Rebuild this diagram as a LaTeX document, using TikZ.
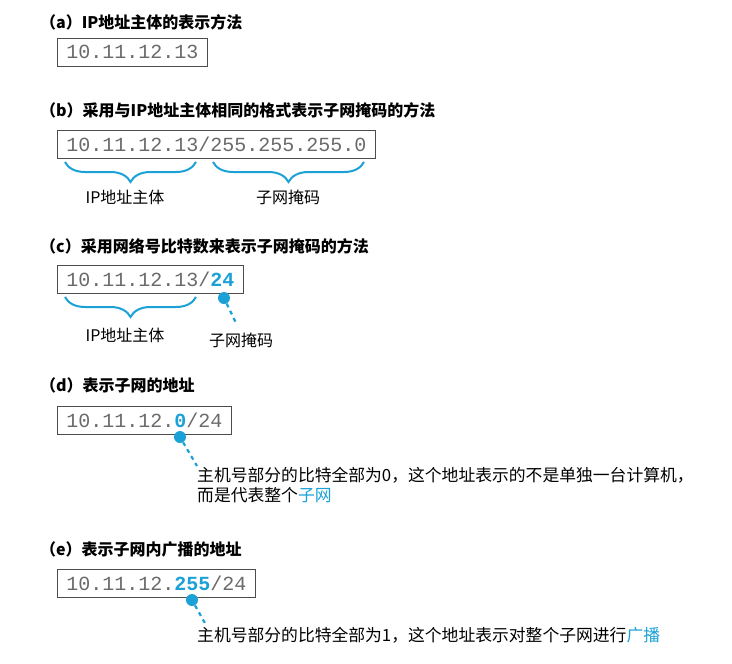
\documentclass[tikz,border=0pt]{standalone}
\usepackage{fontspec}
\setmonofont{Liberation Mono}
\newfontfamily\cjk{Noto Sans CJK SC}
\usetikzlibrary{decorations.pathreplacing}
\definecolor{hl}{HTML}{1BA1D6}
\definecolor{ipgray}{HTML}{6A6A6A}
\begin{document}
\begin{tikzpicture}[x=1pt,y=-1pt,
  ttl/.style={anchor=west,inner sep=0pt,font=\cjk\bfseries\fontsize{16}{18}\selectfont},
  lbl/.style={anchor=center,inner sep=0pt,font=\cjk\fontsize{16}{18}\selectfont},
  note/.style={anchor=north west,inner sep=0pt,align=left,font=\cjk\fontsize{16.8}{19.5}\selectfont},
  ipbox/.style={draw=black!70,line width=0.9pt,anchor=west,inner xsep=9pt,minimum height=28pt,text=ipgray,font=\ttfamily\fontsize{20}{22}\selectfont},
  brc/.style={draw=hl,line width=2pt,decorate,decoration={brace,mirror,amplitude=20pt,aspect=0.5}},
  dot/.style={circle,fill=hl,inner sep=0pt,minimum size=12pt},
  lead/.style={draw=hl,line width=2.2pt,dash pattern=on 4pt off 4pt}]
\useasboundingbox (0,0) rectangle (732,664);
\newcommand{\hb}[1]{\textcolor{hl}{\bfseries #1}}
% (a)
\node[ttl] (ta) at (40,22) {（a）IP地址主体的表示方法};
\node[ipbox] (ba) at (57,52) {10.11.12.13};
% (b)
\node[ttl] (tb) at (40,110) {（b）采用与IP地址主体相同的格式表示子网掩码的方法};
\node[ipbox] (bb) at (57,144) {10.11.12.13/255.255.255.0};
\coordinate (b1) at (65,162); \coordinate (b2) at (196,162);
\coordinate (b3) at (213,162); \coordinate (b4) at (364,162);
\draw[brc] (b1) -- (b2);
\draw[brc] (b3) -- (b4);
\node[lbl] (lb1) at (125,197) {IP地址主体};
\node[lbl] (lb2) at (288,197) {子网掩码};
% (c)
\node[ttl] (tc) at (40,246) {（c）采用网络号比特数来表示子网掩码的方法};
\node[ipbox] (bc) at (57,279) {10.11.12.13/\hb{24}};
\coordinate (c1) at (65,297); \coordinate (c2) at (196,297);
\draw[brc] (c1) -- (c2);
\node[lbl] (lc1) at (125,335) {IP地址主体};
\node[dot] (dc) at (224,298) {};
\coordinate (ec) at (236,323);
\draw[lead] (dc) -- (ec);
\node[lbl] (lc2) at (241,340) {子网掩码};
% (d)
\node[ttl] (td) at (40,385) {（d）表示子网的地址};
\node[ipbox] (bd) at (57,420) {10.11.12.\hb{0}/24};
\node[dot] (dd) at (180,437) {};
\coordinate (ed) at (197,466);
\draw[lead] (dd) -- (ed);
\node[note] (nd) at (197,467) {主机号部分的比特全部为0，这个地址表示的不是单独一台计算机，\\而是代表整个\textcolor{hl}{子网}};
% (e)
\node[ttl] (te) at (40,549) {（e）表示子网内广播的地址};
\node[ipbox] (be) at (57,583) {10.11.12.\hb{255}/24};
\node[dot] (de) at (192,600) {};
\coordinate (ee) at (206,625);
\draw[lead] (de) -- (ee);
\node[note] (ne) at (197,627) {主机号部分的比特全部为1，这个地址表示对整个子网进行\textcolor{hl}{广播}};
\end{tikzpicture}
\end{document}
